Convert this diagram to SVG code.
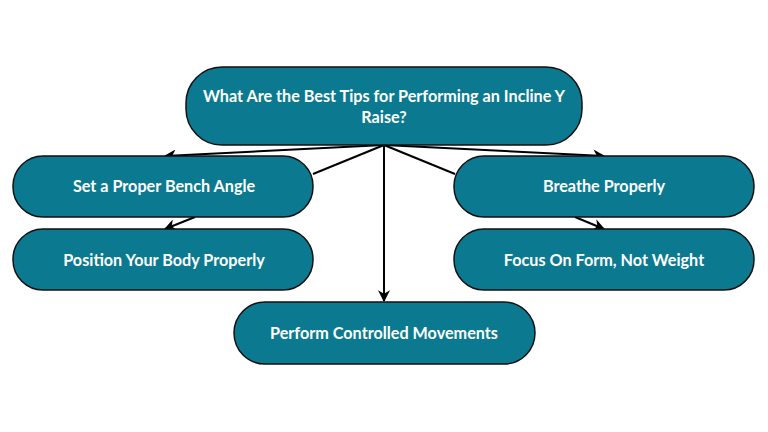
<svg xmlns="http://www.w3.org/2000/svg" width="768" height="432" viewBox="0 0 768 432">
<style>
.node rect{fill:#0b7a90;stroke:#111;stroke-width:1.5}
.node text{fill:#fff;font-family:Lato,"Liberation Sans",sans-serif;font-weight:bold;font-size:16.2px;text-anchor:middle}
.edge{stroke:#000;stroke-width:2;fill:none}
</style>
<defs>
<marker id="arr" viewBox="0 0 10 10" refX="9" refY="5" markerWidth="6" markerHeight="6" orient="auto-start-reverse" markerUnits="strokeWidth">
<path d="M0,0 L10,5 L0,10 L3,5 Z" fill="#000"/>
</marker>
</defs>
<rect width="768" height="432" fill="#fff"/>
<g id="connectors">
<line class="edge" x1="384" y1="145" x2="165" y2="156" marker-end="url(#arr)"/>
<line class="edge" x1="384" y1="145" x2="604" y2="156" marker-end="url(#arr)"/>
<line class="edge" x1="384" y1="145" x2="384" y2="301" marker-end="url(#arr)"/>
<line class="edge" x1="384" y1="145" x2="313" y2="174"/>
<line class="edge" x1="384" y1="145" x2="455" y2="174"/>
<line class="edge" x1="195" y1="217" x2="165" y2="229" marker-end="url(#arr)"/>
<line class="edge" x1="575" y1="217" x2="604" y2="229" marker-end="url(#arr)"/>
</g>
<g id="root" class="node">
<rect x="186" y="67" width="396" height="78" rx="36" ry="36"/>
<text x="384" y="102">What Are the Best Tips for Performing an Incline Y</text>
<text x="384" y="123">Raise?</text>
</g>
<g id="n1" class="node">
<rect x="13" y="156" width="300" height="61" rx="30" ry="30"/>
<text x="164" y="192">Set a Proper Bench Angle</text>
</g>
<g id="n2" class="node">
<rect x="13" y="229" width="300" height="61" rx="30" ry="30"/>
<text x="164" y="266">Position Your Body Properly</text>
</g>
<g id="n3" class="node">
<rect x="454" y="156" width="300" height="61" rx="30" ry="30"/>
<text x="604" y="192">Breathe Properly</text>
</g>
<g id="n4" class="node">
<rect x="454" y="229" width="300" height="61" rx="30" ry="30"/>
<text x="604" y="266">Focus On Form, Not Weight</text>
</g>
<g id="n5" class="node">
<rect x="234" y="302" width="301" height="62" rx="31" ry="31"/>
<text x="384" y="339">Perform Controlled Movements</text>
</g>
</svg>
